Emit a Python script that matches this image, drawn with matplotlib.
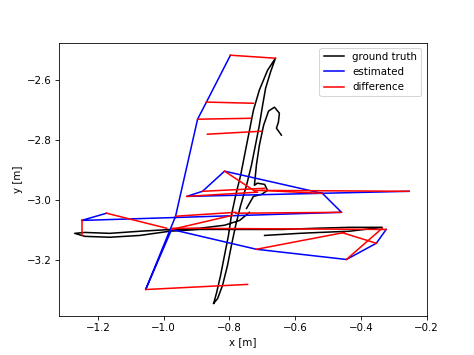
import numpy as np
import matplotlib
matplotlib.use('Agg')
import matplotlib.pyplot as plt

nan = np.nan

# ground truth trajectory (pieces separated by nan)
gt_x = [-0.642, -0.657, -0.651, -0.648, -0.663, -0.681, -0.696, -0.709, -0.718, -0.724,
        -0.715, -0.693, -0.684, -0.702, -0.727, -0.748, nan,
        -0.739, -0.769, -0.815, -0.891, -0.976, -1.073, -1.164, -1.240, -1.271, -1.240,
        -1.164, -1.073, -0.982, -0.891, -0.791, -0.639, -0.535, -0.435, -0.335, -0.435,
        -0.526, -0.587, -0.633, -0.693, nan,
        -0.848, -0.839, -0.827, -0.815, -0.803, -0.794, -0.781, -0.766, -0.751, -0.739,
        -0.727, -0.709, -0.684, -0.660, -0.675, -0.690, -0.699, -0.709, -0.721, -0.733,
        -0.748, -0.766, -0.781, -0.794, -0.806, -0.821, -0.836, -0.848]
gt_y = [-2.783, -2.760, -2.740, -2.710, -2.690, -2.703, -2.750, -2.817, -2.883, -2.950,
        -2.943, -2.947, -2.967, -2.980, -2.987, -3.027, nan,
        -3.040, -3.067, -3.083, -3.093, -3.097, -3.103, -3.110, -3.107, -3.110, -3.120,
        -3.123, -3.117, -3.103, -3.097, -3.097, -3.097, -3.093, -3.090, -3.090, -3.103,
        -3.107, -3.110, -3.113, -3.117, nan,
        -3.343, -3.307, -3.250, -3.183, -3.117, -3.050, -2.983, -2.917, -2.833, -2.767,
        -2.700, -2.633, -2.567, -2.527, -2.573, -2.627, -2.683, -2.750, -2.817, -2.883,
        -2.950, -3.017, -3.083, -3.150, -3.217, -3.283, -3.327, -3.343]

# estimated trajectory
est_x = [-0.797, -0.870, -0.897, -0.964, -1.055, -0.976, -0.718, -0.444, -0.353, -0.323, nan,
         -1.174, -1.250, -0.459, -0.517, -0.815, -0.882, -0.930, -0.253]
est_y = [-2.517, -2.673, -2.730, -3.053, -3.297, -3.097, -3.163, -3.197, -3.143, -3.097, nan,
         -3.043, -3.067, -3.040, -2.977, -2.903, -2.970, -2.987, -2.970]

# difference segments: estimated point -> ground truth point
diff_est_x = [-0.797, -0.870, -0.897, -0.867, -0.964, -1.055, -0.323, -0.718, -0.444, -0.353,
              -1.250, -1.174, -0.459, -0.517, -0.815, -0.882, -0.930, -0.253, -0.976]
diff_est_y = [-2.517, -2.673, -2.730, -2.780, -3.053, -3.297, -3.097, -3.163, -3.197, -3.143,
              -3.067, -3.043, -3.040, -2.977, -2.903, -2.970, -2.987, -2.970, -3.097]
diff_gt_x = [-0.660, -0.727, -0.736, -0.702, -0.781, -0.745, -0.973, -0.450, -0.335, -0.459,
             -1.250, -0.991, -0.781, -0.702, -0.718, -0.693, -0.715, -0.724, -0.791]
diff_gt_y = [-2.527, -2.677, -2.727, -2.770, -3.040, -3.280, -3.093, -3.107, -3.093, -3.107,
             -3.117, -3.093, -3.043, -2.967, -2.973, -2.960, -2.973, -2.967, -3.050]

fig = plt.figure(figsize=(474 / 74, 355 / 74), dpi=74)
ax = fig.add_subplot(111)

ax.plot(gt_x, gt_y, 'k-', label='ground truth')
ax.plot(est_x, est_y, 'b-', label='estimated')
for i in range(len(diff_est_x)):
    ax.plot([diff_est_x[i], diff_gt_x[i]], [diff_est_y[i], diff_gt_y[i]], 'r-',
            label='difference' if i == 0 else None)

ax.set_xlim(-1.318, -0.2)
ax.set_ylim(-3.385, -2.475)
ax.set_xticks([-1.2, -1.0, -0.8, -0.6, -0.4, -0.2])
ax.set_yticks([-3.2, -3.0, -2.8, -2.6])
ax.set_xlabel('x [m]')
ax.set_ylabel('y [m]')
ax.legend(loc='upper right')

fig.savefig('out.png', dpi=74)
